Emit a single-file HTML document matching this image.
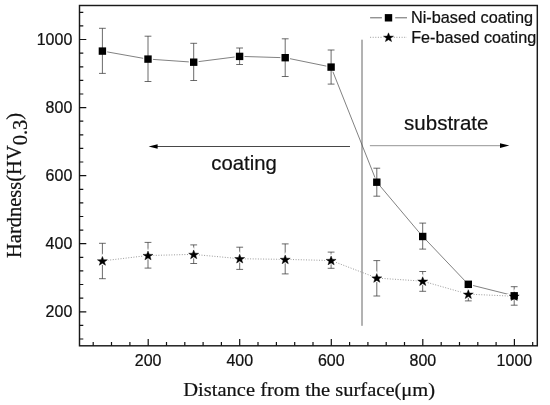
<!DOCTYPE html>
<html><head><meta charset="utf-8"><title>Hardness vs distance</title>
<style>html,body{margin:0;padding:0;background:#fff;}svg{display:block;}text{fill:#111;stroke:#111;stroke-width:0.22px;}.s{font-family:"Liberation Sans",sans-serif;}.t{font-family:"Liberation Serif",serif;}</style></head><body>
<svg width="550" height="405" viewBox="0 0 550 405">
<rect width="550" height="405" fill="#fff"/>
<line x1="362" y1="39.7" x2="362" y2="325.8" stroke="#555" stroke-width="0.9"/>
<line x1="157" y1="146.5" x2="350" y2="146.5" stroke="#333" stroke-width="0.9"/>
<polygon points="148.6,146.5 157.6,144.2 157.6,148.8" fill="#000"/>
<line x1="369.9" y1="145.7" x2="501" y2="145.7" stroke="#777" stroke-width="0.8"/>
<polygon points="509.3,145.6 500,143.3 500,147.9" fill="#000"/>
<path d="M102.4 28.3V73.4M99.0 28.3H105.8M99.0 73.4H105.8" stroke="#3a3a3a" stroke-width="0.75" fill="none"/>
<path d="M148.0 36.2V81.5M144.6 36.2H151.4M144.6 81.5H151.4" stroke="#3a3a3a" stroke-width="0.75" fill="none"/>
<path d="M193.7 43.3V80.5M190.3 43.3H197.1M190.3 80.5H197.1" stroke="#3a3a3a" stroke-width="0.75" fill="none"/>
<path d="M239.6 48.0V64.5M236.2 48.0H243.0M236.2 64.5H243.0" stroke="#3a3a3a" stroke-width="0.75" fill="none"/>
<path d="M285.2 38.8V76.5M281.8 38.8H288.6M281.8 76.5H288.6" stroke="#3a3a3a" stroke-width="0.75" fill="none"/>
<path d="M331.1 50.0V84.1M327.7 50.0H334.5M327.7 84.1H334.5" stroke="#3a3a3a" stroke-width="0.75" fill="none"/>
<path d="M376.8 168.2V196.2M373.4 168.2H380.2M373.4 196.2H380.2" stroke="#3a3a3a" stroke-width="0.75" fill="none"/>
<path d="M422.7 223.1V249.1M419.3 223.1H426.1M419.3 249.1H426.1" stroke="#3a3a3a" stroke-width="0.75" fill="none"/>
<path d="M514.2 286.7V305.2M510.8 286.7H517.6M510.8 305.2H517.6" stroke="#3a3a3a" stroke-width="0.75" fill="none"/>
<path d="M102.4 243.3V278.7M99.0 243.3H105.8M99.0 278.7H105.8" stroke="#3a3a3a" stroke-width="0.75" fill="none"/>
<path d="M148.0 242.4V268.1M144.6 242.4H151.4M144.6 268.1H151.4" stroke="#3a3a3a" stroke-width="0.75" fill="none"/>
<path d="M193.7 244.9V263.5M190.3 244.9H197.1M190.3 263.5H197.1" stroke="#3a3a3a" stroke-width="0.75" fill="none"/>
<path d="M239.7 247.2V269.4M236.3 247.2H243.1M236.3 269.4H243.1" stroke="#3a3a3a" stroke-width="0.75" fill="none"/>
<path d="M285.2 243.9V273.9M281.8 243.9H288.6M281.8 273.9H288.6" stroke="#3a3a3a" stroke-width="0.75" fill="none"/>
<path d="M331.1 252.1V268.3M327.7 252.1H334.5M327.7 268.3H334.5" stroke="#3a3a3a" stroke-width="0.75" fill="none"/>
<path d="M376.8 260.6V296.0M373.4 260.6H380.2M373.4 296.0H380.2" stroke="#3a3a3a" stroke-width="0.75" fill="none"/>
<path d="M422.7 271.5V291.3M419.3 271.5H426.1M419.3 291.3H426.1" stroke="#3a3a3a" stroke-width="0.75" fill="none"/>
<path d="M468.3 287.6V300.9M464.9 287.6H471.7M464.9 300.9H471.7" stroke="#3a3a3a" stroke-width="0.75" fill="none"/>
<line x1="107.2" y1="51.9" x2="143.2" y2="58.3" stroke="#4a4a4a" stroke-width="0.7"/>
<line x1="152.9" y1="59.4" x2="188.8" y2="61.9" stroke="#4a4a4a" stroke-width="0.7"/>
<line x1="198.6" y1="61.6" x2="234.7" y2="57.0" stroke="#4a4a4a" stroke-width="0.7"/>
<line x1="244.5" y1="56.5" x2="280.3" y2="57.6" stroke="#4a4a4a" stroke-width="0.7"/>
<line x1="290.0" y1="58.7" x2="326.3" y2="66.1" stroke="#4a4a4a" stroke-width="0.7"/>
<line x1="332.9" y1="71.7" x2="375.0" y2="177.6" stroke="#4a4a4a" stroke-width="0.7"/>
<line x1="380.0" y1="185.9" x2="419.5" y2="232.8" stroke="#4a4a4a" stroke-width="0.7"/>
<line x1="426.1" y1="240.0" x2="464.9" y2="280.8" stroke="#4a4a4a" stroke-width="0.7"/>
<line x1="473.1" y1="285.5" x2="509.4" y2="294.6" stroke="#4a4a4a" stroke-width="0.7"/>
<line x1="107.6" y1="260.3" x2="142.8" y2="256.1" stroke="#808080" stroke-width="0.8" stroke-dasharray="1 1.6"/>
<line x1="153.2" y1="255.4" x2="188.5" y2="254.5" stroke="#808080" stroke-width="0.8" stroke-dasharray="1 1.6"/>
<line x1="198.9" y1="254.9" x2="234.5" y2="258.2" stroke="#808080" stroke-width="0.8" stroke-dasharray="1 1.6"/>
<line x1="244.9" y1="258.8" x2="280.0" y2="259.3" stroke="#808080" stroke-width="0.8" stroke-dasharray="1 1.6"/>
<line x1="290.4" y1="259.5" x2="325.9" y2="260.4" stroke="#808080" stroke-width="0.8" stroke-dasharray="1 1.6"/>
<line x1="336.0" y1="262.4" x2="371.9" y2="276.1" stroke="#808080" stroke-width="0.8" stroke-dasharray="1 1.6"/>
<line x1="382.0" y1="278.4" x2="417.5" y2="280.8" stroke="#808080" stroke-width="0.8" stroke-dasharray="1 1.6"/>
<line x1="427.7" y1="282.6" x2="463.3" y2="292.8" stroke="#808080" stroke-width="0.8" stroke-dasharray="1 1.6"/>
<line x1="473.5" y1="294.4" x2="509.0" y2="296.0" stroke="#808080" stroke-width="0.8" stroke-dasharray="1 1.6"/>
<polygon points="102.40,256.45 103.67,259.69 107.39,259.80 104.45,261.91 105.49,265.22 102.40,263.29 99.31,265.22 100.35,261.91 97.41,259.80 101.13,259.69" fill="#fff" stroke="#fff" stroke-width="2.2"/><polygon points="102.40,256.45 103.67,259.69 107.39,259.80 104.45,261.91 105.49,265.22 102.40,263.29 99.31,265.22 100.35,261.91 97.41,259.80 101.13,259.69" fill="#000" stroke="#000" stroke-width="0.45" stroke-linejoin="miter"/>
<polygon points="148.00,251.05 149.27,254.29 152.99,254.40 150.05,256.51 151.09,259.82 148.00,257.89 144.91,259.82 145.95,256.51 143.01,254.40 146.73,254.29" fill="#fff" stroke="#fff" stroke-width="2.2"/><polygon points="148.00,251.05 149.27,254.29 152.99,254.40 150.05,256.51 151.09,259.82 148.00,257.89 144.91,259.82 145.95,256.51 143.01,254.40 146.73,254.29" fill="#000" stroke="#000" stroke-width="0.45" stroke-linejoin="miter"/>
<polygon points="193.70,249.95 194.97,253.19 198.69,253.30 195.75,255.41 196.79,258.72 193.70,256.79 190.61,258.72 191.65,255.41 188.71,253.30 192.43,253.19" fill="#fff" stroke="#fff" stroke-width="2.2"/><polygon points="193.70,249.95 194.97,253.19 198.69,253.30 195.75,255.41 196.79,258.72 193.70,256.79 190.61,258.72 191.65,255.41 188.71,253.30 192.43,253.19" fill="#000" stroke="#000" stroke-width="0.45" stroke-linejoin="miter"/>
<polygon points="239.70,254.25 240.97,257.49 244.69,257.60 241.75,259.71 242.79,263.02 239.70,261.09 236.61,263.02 237.65,259.71 234.71,257.60 238.43,257.49" fill="#fff" stroke="#fff" stroke-width="2.2"/><polygon points="239.70,254.25 240.97,257.49 244.69,257.60 241.75,259.71 242.79,263.02 239.70,261.09 236.61,263.02 237.65,259.71 234.71,257.60 238.43,257.49" fill="#000" stroke="#000" stroke-width="0.45" stroke-linejoin="miter"/>
<polygon points="285.20,254.95 286.47,258.19 290.19,258.30 287.25,260.41 288.29,263.72 285.20,261.79 282.11,263.72 283.15,260.41 280.21,258.30 283.93,258.19" fill="#fff" stroke="#fff" stroke-width="2.2"/><polygon points="285.20,254.95 286.47,258.19 290.19,258.30 287.25,260.41 288.29,263.72 285.20,261.79 282.11,263.72 283.15,260.41 280.21,258.30 283.93,258.19" fill="#000" stroke="#000" stroke-width="0.45" stroke-linejoin="miter"/>
<polygon points="331.10,256.05 332.37,259.29 336.09,259.40 333.15,261.51 334.19,264.82 331.10,262.89 328.01,264.82 329.05,261.51 326.11,259.40 329.83,259.29" fill="#fff" stroke="#fff" stroke-width="2.2"/><polygon points="331.10,256.05 332.37,259.29 336.09,259.40 333.15,261.51 334.19,264.82 331.10,262.89 328.01,264.82 329.05,261.51 326.11,259.40 329.83,259.29" fill="#000" stroke="#000" stroke-width="0.45" stroke-linejoin="miter"/>
<polygon points="376.80,273.55 378.07,276.79 381.79,276.90 378.85,279.01 379.89,282.32 376.80,280.39 373.71,282.32 374.75,279.01 371.81,276.90 375.53,276.79" fill="#fff" stroke="#fff" stroke-width="2.2"/><polygon points="376.80,273.55 378.07,276.79 381.79,276.90 378.85,279.01 379.89,282.32 376.80,280.39 373.71,282.32 374.75,279.01 371.81,276.90 375.53,276.79" fill="#000" stroke="#000" stroke-width="0.45" stroke-linejoin="miter"/>
<polygon points="422.70,276.75 423.97,279.99 427.69,280.10 424.75,282.21 425.79,285.52 422.70,283.59 419.61,285.52 420.65,282.21 417.71,280.10 421.43,279.99" fill="#fff" stroke="#fff" stroke-width="2.2"/><polygon points="422.70,276.75 423.97,279.99 427.69,280.10 424.75,282.21 425.79,285.52 422.70,283.59 419.61,285.52 420.65,282.21 417.71,280.10 421.43,279.99" fill="#000" stroke="#000" stroke-width="0.45" stroke-linejoin="miter"/>
<polygon points="468.30,289.75 469.57,292.99 473.29,293.10 470.35,295.21 471.39,298.52 468.30,296.59 465.21,298.52 466.25,295.21 463.31,293.10 467.03,292.99" fill="#fff" stroke="#fff" stroke-width="2.2"/><polygon points="468.30,289.75 469.57,292.99 473.29,293.10 470.35,295.21 471.39,298.52 468.30,296.59 465.21,298.52 466.25,295.21 463.31,293.10 467.03,292.99" fill="#000" stroke="#000" stroke-width="0.45" stroke-linejoin="miter"/>
<polygon points="514.20,291.75 515.47,294.99 519.19,295.10 516.25,297.21 517.29,300.52 514.20,298.59 511.11,300.52 512.15,297.21 509.21,295.10 512.93,294.99" fill="#fff" stroke="#fff" stroke-width="2.2"/><polygon points="514.20,291.75 515.47,294.99 519.19,295.10 516.25,297.21 517.29,300.52 514.20,298.59 511.11,300.52 512.15,297.21 509.21,295.10 512.93,294.99" fill="#000" stroke="#000" stroke-width="0.45" stroke-linejoin="miter"/>
<rect x="98.7" y="47.4" width="7.4" height="7.4" fill="#000"/>
<rect x="144.3" y="55.4" width="7.4" height="7.4" fill="#000"/>
<rect x="190.0" y="58.5" width="7.4" height="7.4" fill="#000"/>
<rect x="235.9" y="52.7" width="7.4" height="7.4" fill="#000"/>
<rect x="281.5" y="54.0" width="7.4" height="7.4" fill="#000"/>
<rect x="327.4" y="63.4" width="7.4" height="7.4" fill="#000"/>
<rect x="373.1" y="178.5" width="7.4" height="7.4" fill="#000"/>
<rect x="419.0" y="232.8" width="7.4" height="7.4" fill="#000"/>
<rect x="464.6" y="280.6" width="7.4" height="7.4" fill="#000"/>
<rect x="510.5" y="292.1" width="7.4" height="7.4" fill="#000"/>
<rect x="79.5" y="5.5" width="457.8" height="340.3" fill="none" stroke="#1a1a1a" stroke-width="1.45"/>
<path d="M93.2 345.8v-3.8M111.5 345.8v-3.8M129.9 345.8v-3.8M148.2 345.8v-6.8M166.5 345.8v-3.8M184.8 345.8v-3.8M203.1 345.8v-3.8M221.4 345.8v-3.8M239.7 345.8v-6.8M258.0 345.8v-3.8M276.4 345.8v-3.8M294.7 345.8v-3.8M313.0 345.8v-3.8M331.3 345.8v-6.8M349.6 345.8v-3.8M367.9 345.8v-3.8M386.2 345.8v-3.8M404.5 345.8v-3.8M422.8 345.8v-6.8M441.2 345.8v-3.8M459.5 345.8v-3.8M477.8 345.8v-3.8M496.1 345.8v-3.8M514.4 345.8v-6.8M532.7 345.8v-3.8M79.5 339.0h3.8M79.5 325.4h3.8M79.5 311.8h6.8M79.5 298.2h3.8M79.5 284.5h3.8M79.5 270.9h3.8M79.5 257.3h3.8M79.5 243.7h6.8M79.5 230.1h3.8M79.5 216.5h3.8M79.5 202.9h3.8M79.5 189.3h3.8M79.5 175.7h6.8M79.5 162.0h3.8M79.5 148.4h3.8M79.5 134.8h3.8M79.5 121.2h3.8M79.5 107.6h6.8M79.5 94.0h3.8M79.5 80.4h3.8M79.5 66.8h3.8M79.5 53.1h3.8M79.5 39.5h6.8M79.5 25.9h3.8M79.5 12.3h3.8" stroke="#111" stroke-width="1.2" fill="none"/>
<text class="s" transform="translate(148.17 366.20) scale(1.0000 0.9800)" font-size="16" text-anchor="middle">200</text>
<text class="s" transform="translate(72.30 316.97) scale(1.0000 0.9800)" font-size="16" text-anchor="end">200</text>
<text class="s" transform="translate(239.73 366.20) scale(1.0000 0.9800)" font-size="16" text-anchor="middle">400</text>
<text class="s" transform="translate(72.30 248.91) scale(1.0000 0.9800)" font-size="16" text-anchor="end">400</text>
<text class="s" transform="translate(331.29 366.20) scale(1.0000 0.9800)" font-size="16" text-anchor="middle">600</text>
<text class="s" transform="translate(72.30 180.85) scale(1.0000 0.9800)" font-size="16" text-anchor="end">600</text>
<text class="s" transform="translate(422.85 366.20) scale(1.0000 0.9800)" font-size="16" text-anchor="middle">800</text>
<text class="s" transform="translate(72.30 112.79) scale(1.0000 0.9800)" font-size="16" text-anchor="end">800</text>
<text class="s" transform="translate(514.41 366.20) scale(1.0000 0.9800)" font-size="16" text-anchor="middle">1000</text>
<text class="s" transform="translate(72.30 44.73) scale(1.0000 0.9800)" font-size="16" text-anchor="end">1000</text>
<text class="t" transform="translate(183.30 395.80) scale(1.0254 0.9600)" font-size="20">Distance from the surface(μm)</text>
<text class="t" transform="translate(21.40 258.00) rotate(-90) scale(1.0250 1.0000)" font-size="20">Hardness(HV<tspan dy="5.5">0.3</tspan><tspan dy="-5.5">)</tspan></text>
<text class="s" transform="translate(211.30 169.70) scale(1.0000 0.9700)" font-size="20.3">coating</text>
<text class="s" transform="translate(404.10 129.80) scale(1.0000 0.9700)" font-size="20.5">substrate</text>
<line x1="370.1" y1="17.8" x2="381.9" y2="17.8" stroke="#555" stroke-width="0.9"/><line x1="395.2" y1="17.8" x2="407" y2="17.8" stroke="#555" stroke-width="0.9"/>
<rect x="384.8" y="14.1" width="7.4" height="7.4" fill="#000"/>
<line x1="370.1" y1="37.3" x2="383.3" y2="37.3" stroke="#808080" stroke-width="0.8" stroke-dasharray="1 1.6"/><line x1="393.8" y1="37.3" x2="407" y2="37.3" stroke="#808080" stroke-width="0.8" stroke-dasharray="1 1.6"/>
<polygon points="388.50,32.85 389.77,36.09 393.49,36.20 390.55,38.31 391.59,41.62 388.50,39.69 385.41,41.62 386.45,38.31 383.51,36.20 387.23,36.09" fill="#000" stroke="#000" stroke-width="0.45" stroke-linejoin="miter"/>
<text class="s" transform="translate(410.90 23.00) scale(1.0180 1.0000)" font-size="16">Ni-based coating</text>
<text class="s" transform="translate(411.20 43.00) scale(1.0120 1.0000)" font-size="16">Fe-based coating</text>
</svg></body></html>
